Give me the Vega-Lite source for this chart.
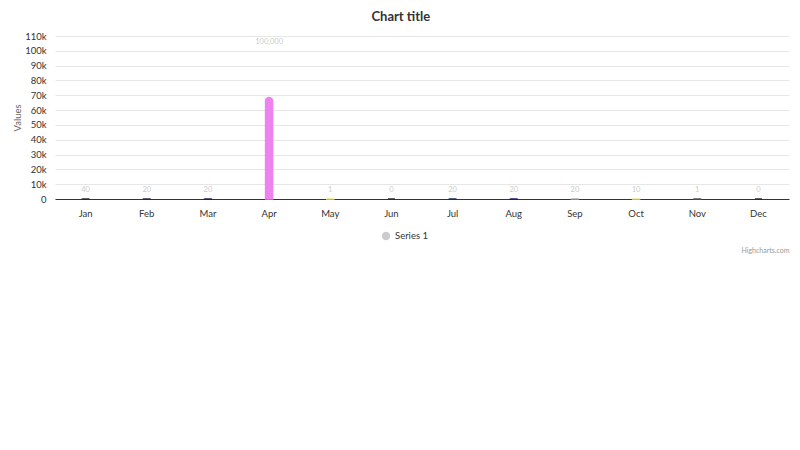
{
  "$schema": "https://vega.github.io/schema/vega-lite/v6.json",
  "autosize": {"type": "none"},
  "width": 734,
  "height": 163,
  "padding": {"left": 55, "top": 36, "right": 11, "bottom": 251},
  "background": "white",
  "title": {
    "text": "Chart title",
    "anchor": "middle",
    "frame": "bounds",
    "fontSize": 13,
    "fontWeight": "bold",
    "color": "#333333",
    "baseline": "middle",
    "offset": 1
  },
  "data": {
    "values": [
      {"month": "Jan", "value": 40, "shown": 40, "series": "Series 1"},
      {"month": "Feb", "value": 20, "shown": 20, "series": "Series 1"},
      {"month": "Mar", "value": 20, "shown": 20, "series": "Series 1"},
      {"month": "Apr", "value": 100000, "shown": 68500, "series": "Series 1"},
      {"month": "May", "value": 1, "shown": 1, "series": "Series 1"},
      {"month": "Jun", "value": 0, "shown": 0, "series": "Series 1"},
      {"month": "Jul", "value": 20, "shown": 20, "series": "Series 1"},
      {"month": "Aug", "value": 20, "shown": 20, "series": "Series 1"},
      {"month": "Sep", "value": 20, "shown": 20, "series": "Series 1"},
      {"month": "Oct", "value": 10, "shown": 10, "series": "Series 1"},
      {"month": "Nov", "value": 1, "shown": 1, "series": "Series 1"},
      {"month": "Dec", "value": 0, "shown": 0, "series": "Series 1"}
    ]
  },
  "encoding": {
    "x": {
      "field": "month",
      "type": "nominal",
      "sort": null,
      "axis": {
        "title": "Highcharts.com",
        "titleAnchor": "end",
        "titleAlign": "right",
        "titleFontSize": 7,
        "titleFontWeight": "normal",
        "titleColor": "#999999",
        "titlePadding": 29,
        "labelAngle": 0,
        "labelFontSize": 9.5,
        "labelColor": "#333333",
        "labelPadding": 9,
        "ticks": false,
        "domainColor": "#333333",
        "grid": false
      }
    }
  },
  "layer": [
    {
      "mark": {"type": "bar", "size": 7, "cornerRadiusEnd": 3.5, "strokeWidth": 1.5},
      "encoding": {
        "y": {
          "field": "shown",
          "type": "quantitative",
          "scale": {"domain": [0, 110000], "nice": false},
          "axis": {
            "title": "Values",
            "titleFontSize": 9.5,
            "titleFontWeight": "normal",
            "titleColor": "#666666",
            "titlePadding": 2,
            "values": [0, 10000, 20000, 30000, 40000, 50000, 60000, 70000, 80000, 90000, 100000, 110000],
            "labelExpr": "datum.value === 0 ? '0' : (datum.value / 1000) + 'k'",
            "labelOverlap": false,
            "labelFontSize": 9.5,
            "labelColor": "#333333",
            "labelPadding": 9,
            "ticks": false,
            "domain": false,
            "gridColor": "#e6e6e6"
          }
        },
        "fill": {
          "field": "month",
          "type": "nominal",
          "sort": null,
          "scale": {"range": ["#2b2b3b", "#2b2b3b", "#1c1c5e", "#ee82ee", "#f5e27a", "#2b2b3b", "#1c2a5a", "#1c1c6b", "#aaaaaa", "#f0e68c", "#555555", "#2b2b3b"]},
          "legend": null
        },
        "stroke": {
          "field": "month",
          "type": "nominal",
          "sort": null,
          "scale": {"range": ["#2b2b3b", "#2b2b3b", "#1c1c5e", "#ee82ee", "#f5e27a", "#2b2b3b", "#1c2a5a", "#1c1c6b", "#aaaaaa", "#f0e68c", "#555555", "#2b2b3b"]},
          "legend": null
        }
      }
    },
    {
      "mark": {"type": "text", "baseline": "bottom", "dy": -5, "fontSize": 7.5},
      "encoding": {
        "y": {
          "field": "value",
          "type": "quantitative",
          "axis": {
            "title": "Values",
            "titleFontSize": 9.5,
            "titleFontWeight": "normal",
            "titleColor": "#666666",
            "titlePadding": 2,
            "values": [0, 10000, 20000, 30000, 40000, 50000, 60000, 70000, 80000, 90000, 100000, 110000],
            "labelExpr": "datum.value === 0 ? '0' : (datum.value / 1000) + 'k'",
            "labelOverlap": false,
            "labelFontSize": 9.5,
            "labelColor": "#333333",
            "labelPadding": 9,
            "ticks": false,
            "domain": false,
            "gridColor": "#e6e6e6"
          }
        },
        "text": {"field": "value", "type": "quantitative", "format": ","},
        "color": {
          "field": "series",
          "type": "nominal",
          "scale": {"range": ["#cccccc"]},
          "legend": {
            "orient": "none",
            "legendX": 326,
            "legendY": 195,
            "title": null,
            "symbolType": "circle",
            "symbolSize": 70,
            "labelFontSize": 9.5,
            "labelColor": "#333333"
          }
        }
      }
    }
  ],
  "config": {
    "font": "Lato",
    "view": {"stroke": null}
  }
}
